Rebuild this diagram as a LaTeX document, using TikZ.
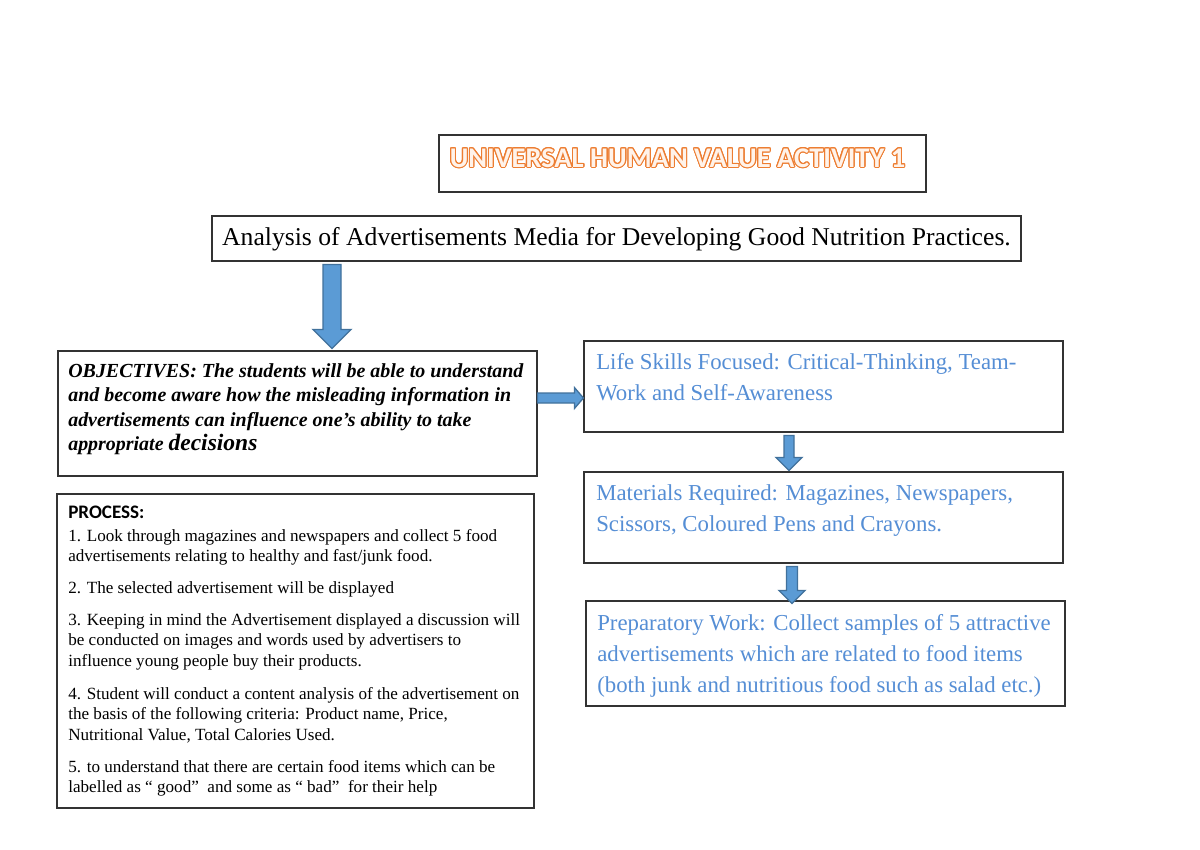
\documentclass[tikz,border=0pt]{standalone}
\usepackage{fontspec}
\setmainfont{Liberation Serif}
\newfontfamily\calib{Carlito}
\usepackage{contour}
\contourlength{0.8pt}
\usetikzlibrary{calc,fit}
\definecolor{titleorange}{HTML}{ED7D31}
\definecolor{titlefill}{HTML}{FFF3EA}
\definecolor{bluetext}{HTML}{558ED5}
\definecolor{arrowfill}{HTML}{5B9BD5}
\definecolor{arrowline}{HTML}{41719C}
\definecolor{boxline}{HTML}{333333}
\newcommand\vblock[5]{\path[blockarrow] ($(#1)+(-#3,0)$) -- ($(#1)+(#3,0)$) -- ($(#2)+(#3,-#5)$) -- ($(#2)+(#4,-#5)$) -- (#2) -- ($(#2)+(-#4,-#5)$) -- ($(#2)+(-#3,-#5)$) -- cycle;}
\newcommand\hblock[5]{\path[blockarrow] ($(#1)+(0,-#3)$) -- ($(#2)+(-#5,-#3)$) -- ($(#2)+(-#5,-#4)$) -- (#2) -- ($(#2)+(-#5,#4)$) -- ($(#2)+(-#5,#3)$) -- ($(#1)+(0,#3)$) -- cycle;}
\begin{document}
\begin{tikzpicture}[x=0.70167pt,y=-0.70167pt,
  box/.style={draw=boxline, line width=0.8pt, inner sep=0pt},
  blockarrow/.style={fill=arrowfill, draw=arrowline, line width=0.9pt, line join=miter},
  txt/.style={anchor=north west, inner sep=0pt, align=left},
  bluetxt/.style={txt, text=bluetext, font=\fontsize{16}{21.8}\selectfont},
  proc/.style={txt, font=\fontsize{12}{14.4}\selectfont},
  ]
\fill[white] (0,0) rectangle (1200,849);
\useasboundingbox (0,0) rectangle (1200,849);

% boxes
\node[box, fit={(439,135) (926,192)}] (title) {};
\node[box, fit={(212,216) (1021,261)}] (analysis) {};
\node[box, fit={(58,351) (537,476)}] (obj) {};
\node[box, fit={(57,494) (534,808)}] (proc) {};
\node[box, fit={(584,341) (1063,432)}] (life) {};
\node[box, fit={(584,472) (1063,563)}] (mat) {};
\node[box, fit={(586,601) (1065,706)}] (prep) {};

% texts
\node[inner sep=0pt] (titletext) at ($(title.center)+(-5,-5)$)
  {\calib\bfseries\fontsize{20}{22}\selectfont\color{titlefill}\contour{titleorange}{UNIVERSAL HUMAN VALUE ACTIVITY 1}};
\node[inner sep=0pt, font=\fontsize{18}{21}\selectfont] (analysistext) at ($(analysis.center)+(0,1)$)
  {Analysis of Advertisements Media for Developing Good Nutrition Practices.};

\node[txt, font=\fontsize{14}{17.2}\selectfont\bfseries\itshape] (objtext) at (68,363)
  {OBJECTIVES: The students will be able to understand\\
   and become aware how the misleading information in\\
   advertisements can influence one’s ability to take\\
   appropriate {\fontsize{16.5}{17.2}\selectfont decisions}};

\node[txt, font=\calib\bfseries\fontsize{13.4}{15}\selectfont] (proch) at (68,506) {PROCESS:};
\node[proc] (p1) at (68,529)
  {1. Look through magazines and newspapers and collect 5 food\\
   advertisements relating to healthy and fast/junk food.};
\node[proc] (p2) at (68,581) {2. The selected advertisement will be displayed};
\node[proc] (p3) at (68,613)
  {3. Keeping in mind the Advertisement displayed a discussion will\\
   be conducted on images and words used by advertisers to\\
   influence young people buy their products.};
\node[proc] (p4) at (68,687)
  {4. Student will conduct a content analysis of the advertisement on\\
   the basis of the following criteria: Product name, Price,\\
   Nutritional Value, Total Calories Used.};
\node[proc] (p5) at (68,760)
  {5. to understand that there are certain food items which can be\\
   labelled as “ good”\ \ and some as “ bad”\ \ for their help};

\node[bluetxt] (lifetext) at (596,353)
  {Life Skills Focused: Critical-Thinking, Team-\\Work and Self-Awareness};
\node[bluetxt] (mattext) at (596,484)
  {Materials Required: Magazines, Newspapers,\\Scissors, Coloured Pens and Crayons.};
\node[bluetxt] (preptext) at (597,614)
  {Preparatory Work: Collect samples of 5 attractive\\advertisements which are related to food items\\(both junk and nutritious food such as salad etc.)};

% arrows
\coordinate (cx332) at (332,0);
\coordinate (cx789) at (789,0);
\coordinate (cx792) at (792,0);
\coordinate (cy398) at (0,398);
\coordinate (a1s) at ($(analysis.south -| cx332)+(0,3)$);
\coordinate (a1e) at ($(obj.north -| cx332)+(0,-2)$);
\vblock{a1s}{a1e}{9}{19}{19}
\coordinate (a2s) at (obj.east |- cy398);
\coordinate (a2e) at (life.west |- cy398);
\hblock{a2s}{a2e}{5}{10.5}{9}
\coordinate (a3s) at ($(life.south -| cx789)+(0,3)$);
\coordinate (a3e) at ($(mat.north -| cx789)+(0,-1)$);
\vblock{a3s}{a3e}{5}{13}{13}
\coordinate (a4s) at ($(mat.south -| cx792)+(0,3)$);
\coordinate (a4e) at ($(prep.north -| cx792)+(0,3)$);
\vblock{a4s}{a4e}{5.5}{13}{13}
\end{tikzpicture}
\end{document}
